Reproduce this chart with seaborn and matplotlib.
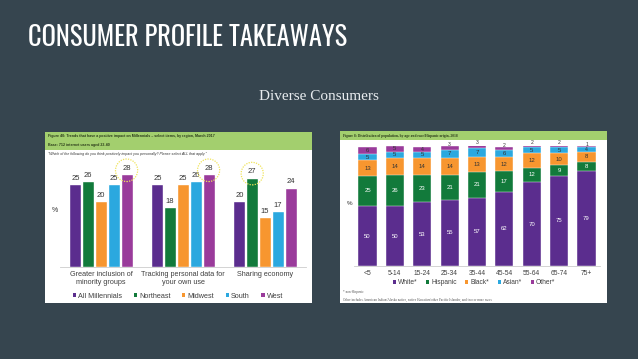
import numpy as np
import pandas as pd
import matplotlib
matplotlib.use("Agg")
import matplotlib.pyplot as plt
from matplotlib import font_manager
from matplotlib.patches import Rectangle, Ellipse, Patch
import seaborn as sns

# ---------------- data ----------------
left_categories = ["Greater inclusion of\nminority groups",
                   "Tracking personal data for\nyour own use",
                   "Sharing economy"]
regions = ["All Millennials", "Northeast", "Midwest", "South", "West"]
all_millennials = [25, 25, 20]
northeast = [26, 18, 27]
midwest = [20, 25, 15]
south = [25, 26, 17]
west = [28, 28, 24]
highlighted = [(0, "West"), (1, "West"), (2, "Northeast")]

ages = ["<5", "5-14", "15-24", "25-34", "35-44", "45-54", "55-64", "65-74", "75+"]
races = ["White*", "Hispanic", "Black*", "Asian*", "Other*"]
white = [50, 50, 53, 55, 57, 62, 70, 75, 79]
hispanic = [25, 26, 23, 21, 21, 17, 12, 9, 8]
black = [13, 14, 14, 14, 13, 12, 12, 10, 8]
asian = [5, 5, 5, 7, 7, 6, 5, 5, 4]
other = [6, 5, 4, 3, 3, 2, 2, 2, 1]

# ---------------- style ----------------
sns.set_style("white")
plt.rcParams["font.family"] = ["Liberation Sans", "DejaVu Sans"]

BG = "#36454f"
PURPLE = "#5b2d8e"
GREEN = "#127a3b"
ORANGE = "#f7962f"
BLUE = "#2ba8df"
MAGENTA = "#9a3b9b"
HEADER_GREEN = "#a3cf6e"
region_colors = [PURPLE, GREEN, ORANGE, BLUE, MAGENTA]
race_colors = [PURPLE, GREEN, ORANGE, BLUE, MAGENTA]

W, H = 638, 359
fig = plt.figure(figsize=(W / 100, H / 100), dpi=100, facecolor=BG)


def fx(x):
    return x / W


def fy(y):
    return 1 - y / H


def rect(x0, y0, x1, y1, color):
    fig.add_artist(Rectangle((fx(x0), fy(y1)), (x1 - x0) / W, (y1 - y0) / H,
                             transform=fig.transFigure, facecolor=color,
                             edgecolor="none", zorder=0))


def pick_family(cands, stretch="normal"):
    for fam in cands:
        try:
            font_manager.findfont(font_manager.FontProperties(family=fam, stretch=stretch),
                                  fallback_to_default=False)
            return fam
        except Exception:
            continue
    return "DejaVu Sans"


title_family = pick_family(["Oswald", "Roboto Condensed", "Open Sans Condensed",
                            "Noto Sans Condensed", "Liberation Sans Narrow",
                            "DejaVu Sans Condensed", "Liberation Sans"])

# slide text
title = fig.text(fx(28), fy(38), "CONSUMER PROFILE TAKEAWAYS", color="white",
                 fontsize=20, family=[title_family, "DejaVu Sans"],
                 fontstretch="condensed", va="center", ha="left")
fig.canvas.draw()
tw = title.get_window_extent().width
title.set_fontsize(20 * 319 / tw)

fig.text(fx(319), fy(97), "Diverse Consumers", color="#e8ecef",
         fontsize=11, family=["Liberation Serif", "DejaVu Serif"],
         va="center", ha="center")

# ---------------- left panel ----------------
rect(45, 132, 312, 303, "white")
rect(45, 132, 312, 150, HEADER_GREEN)
fig.text(fx(48), fy(136.5), "Figure 40: Trends that have a positive impact on Millennials \u2013 select items, by region, March 2017",
         fontsize=2.6, color="#2a3a1a", va="center", weight="bold")
fig.text(fx(48), fy(145), "Base: 712 internet users aged 23-40",
         fontsize=2.6, color="#2a3a1a", va="center", weight="bold")
fig.text(fx(48), fy(154.5), "\"Which of the following do you think positively impact you personally? Please select ALL that apply.\"",
         fontsize=2.6, color="#333333", va="center", style="italic")

df_left = pd.DataFrame({
    "category": np.repeat(left_categories, len(regions)),
    "region": regions * len(left_categories),
    "value": np.array([all_millennials, northeast, midwest, south, west]).T.ravel(),
})

axL = fig.add_axes([fx(60), fy(267), (306 - 60) / W, (267 - 161) / H])
sns.barplot(data=df_left, x="category", y="value", hue="region",
            hue_order=regions, order=left_categories, palette=region_colors,
            width=0.78, gap=0.06, ax=axL, legend=False, saturation=1)
for cont in axL.containers:
    axL.bar_label(cont, fontsize=5.5, padding=1.5, color="#333333")
axL.set_ylim(0, 32)
axL.set_xlim(-0.5, 2.5)
axL.set_yticks([])
axL.set_ylabel("%", fontsize=5, rotation=0, color="#333333", labelpad=4)
axL.set_xlabel("")
axL.tick_params(axis="x", labelsize=5.2, colors="#404040", length=0, pad=3)
for s in ["top", "right", "left"]:
    axL.spines[s].set_visible(False)
axL.spines["bottom"].set_color("#cccccc")
axL.spines["bottom"].set_linewidth(0.6)
axL.set_xticks([-0.5, 0.5, 1.5, 2.5], minor=True)
axL.tick_params(axis="x", which="minor", length=2.5, color="#cccccc", width=0.6)
axL.set_facecolor("white")

# highlight circles
n = len(regions)
bw = 0.78 / n
for gi, reg in highlighted:
    ri = regions.index(reg)
    xc = gi - 0.39 + bw * (ri + 0.5)
    yc = df_left[(df_left.category == left_categories[gi]) & (df_left.region == reg)].value.iloc[0] + 1.2
    axL.add_patch(Ellipse((xc, yc), 0.27, 6.8, fill=False, edgecolor="#f0e45a",
                          linestyle=(0, (1, 1)), linewidth=0.9, clip_on=False, zorder=5))

handles = [Patch(facecolor=c, edgecolor="none") for c in region_colors]
fig.legend(handles, regions, loc="center", bbox_to_anchor=(fx(178), fy(296)),
           ncol=5, frameon=False, fontsize=5.2, handlelength=0.45,
           handleheight=0.45, handletextpad=0.3, columnspacing=1.6,
           labelcolor="#404040")

# ---------------- right panel ----------------
rect(340, 131, 607, 303, "white")
rect(340, 131, 607, 140, HEADER_GREEN)
fig.text(fx(343), fy(135.5), "Figure 8: Distribution of population, by age and race/Hispanic origin, 2018",
         fontsize=2.6, color="#2a3a1a", va="center", weight="bold",
         family=["Liberation Serif", "DejaVu Serif"])
fig.text(fx(343), fy(292.5), "* non-Hispanic", fontsize=2.4, color="#555555",
         va="center", family=["Liberation Serif", "DejaVu Serif"])
fig.text(fx(343), fy(299.5),
         "Other includes American Indian/Alaska native, native Hawaiian/other Pacific Islander, and two or more races",
         fontsize=2.4, color="#555555", va="center",
         family=["Liberation Serif", "DejaVu Serif"])

stack = np.array([white, hispanic, black, asian, other])
cum = np.cumsum(stack, axis=0)

axR = fig.add_axes([fx(353.8), fy(266), (600.2 - 353.8) / W, 120 / H])
for i in reversed(range(len(races))):
    sns.barplot(x=ages, y=cum[i], color=race_colors[i], width=0.66,
                ax=axR, saturation=1, edgecolor="white", linewidth=0.3)
label_colors = ["white", "white", "#333333", "#333333", "#333333"]
for i in range(len(races)):
    for j in range(len(ages)):
        v = stack[i][j]
        if i == len(races) - 1 and v <= 3:
            axR.text(j, cum[i][j] - 0.5, str(v), ha="center", va="bottom",
                     fontsize=3.6, color=label_colors[i], clip_on=False)
        else:
            axR.text(j, cum[i][j] - v / 2, str(v), ha="center", va="center",
                     fontsize=4.3 if v > 4 else 3.8, color=label_colors[i])
axR.set_ylim(0, 100)
axR.set_xlim(-0.5, len(ages) - 0.5)
axR.set_yticks([])
axR.set_ylabel("%", fontsize=4.5, rotation=0, color="#333333", labelpad=3)
axR.tick_params(axis="x", labelsize=4.8, colors="#404040", length=0, pad=3)
for s in ["top", "right", "left"]:
    axR.spines[s].set_visible(False)
axR.spines["bottom"].set_color("#cccccc")
axR.spines["bottom"].set_linewidth(0.6)
axR.set_facecolor("white")

handles = [Patch(facecolor=c, edgecolor="none") for c in race_colors]
fig.legend(handles, races, loc="center", bbox_to_anchor=(fx(474), fy(283)),
           ncol=5, frameon=False, fontsize=4.8, handlelength=0.45,
           handleheight=0.45, handletextpad=0.3, columnspacing=1.3,
           labelcolor="#404040")

fig.savefig("out.png", dpi=100, facecolor=BG)
